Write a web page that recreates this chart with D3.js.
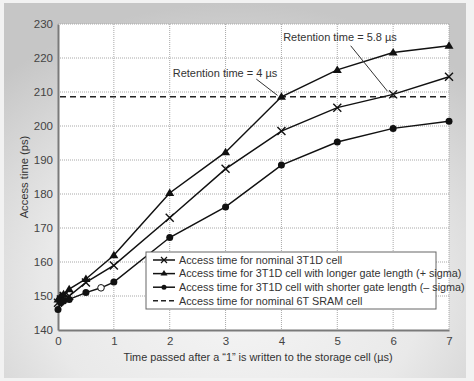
<!DOCTYPE html>
<html>
<head>
<meta charset="utf-8">
<script src="https://cdn.jsdelivr.net/npm/d3@7.9.0/dist/d3.min.js"></script>
<style>
  body { margin: 0; background: #f2f2f2; }
  svg { display: block; font-family: "Liberation Sans", Arial, sans-serif; }
</style>
</head>
<body>
<svg id="chart" width="474" height="381"></svg>
<script>
// data
const tNominal = [0, 0.05, 0.1, 0.2, 0.5, 1, 2, 3, 4, 5, 6, 7];
const vNominal = [148, 149, 150, 150, 154, 159, 173, 187.4, 198.5, 205.4, 209.3, 214.5];
const tLonger = [0, 0.05, 0.1, 0.2, 0.5, 1, 2, 3, 4, 5, 6, 7];
const vLonger = [149, 150, 150.5, 152, 155, 162, 180.3, 192.3, 208.6, 216.5, 221.6, 223.6];
const tShorter = [0, 0.05, 0.1, 0.2, 0.5, 0.77, 1, 2, 3, 4, 5, 6, 7];
const vShorter = [146, 148, 148.5, 149, 151, 152.4, 154.1, 167.2, 176.2, 188.5, 195.3, 199.3, 201.4];
const sramLevel = 208.6;
const xTicks = [0, 1, 2, 3, 4, 5, 6, 7];
const yTicks = [140, 150, 160, 170, 180, 190, 200, 210, 220, 230];
const legendLabels = [
  'Access time for nominal 3T1D cell',
  'Access time for 3T1D cell with longer gate length (+ sigma)',
  'Access time for 3T1D cell with shorter gate length (\u2013 sigma)',
  'Access time for nominal 6T SRAM cell'
];

const svg = d3.select('#chart');

// background panel
const defs = svg.append('defs');
const grad = defs.append('radialGradient').attr('id', 'bg')
  .attr('cx', '50%').attr('cy', '75%').attr('r', '75%');
grad.append('stop').attr('offset', '0%').attr('stop-color', '#f6f6f6');
grad.append('stop').attr('offset', '55%').attr('stop-color', '#e9e9e9');
grad.append('stop').attr('offset', '100%').attr('stop-color', '#c6c6c6');
svg.append('rect').attr('x', 4).attr('y', 3).attr('width', 462).attr('height', 375)
  .attr('fill', 'url(#bg)');

const x = d3.scaleLinear().domain([0, 7]).range([58, 449]);
const y = d3.scaleLinear().domain([140, 230]).range([330, 24]);

// plot area
svg.append('rect').attr('x', x(0)).attr('y', y(230))
  .attr('width', x(7) - x(0)).attr('height', y(140) - y(230)).attr('fill', '#fff');

// grid
svg.append('g').selectAll('line').data(xTicks.slice(1)).join('line')
  .attr('x1', d => x(d)).attr('x2', d => x(d)).attr('y1', y(230)).attr('y2', y(140))
  .attr('stroke', '#a8a8a8').attr('stroke-width', 1).attr('stroke-dasharray', '1,1');
svg.append('g').selectAll('line').data(yTicks.slice(1)).join('line')
  .attr('x1', x(0)).attr('x2', x(7)).attr('y1', d => y(d)).attr('y2', d => y(d))
  .attr('stroke', '#a8a8a8').attr('stroke-width', 1).attr('stroke-dasharray', '1,1');

// axes
const xAxis = svg.append('g').attr('transform', `translate(0,${y(140)})`)
  .call(d3.axisBottom(x).tickValues(xTicks).tickFormat(d3.format('d')).tickSize(0).tickPadding(7));
const yAxis = svg.append('g').attr('transform', `translate(${x(0)},0)`)
  .call(d3.axisLeft(y).tickValues(yTicks).tickFormat(d3.format('d')).tickSize(0).tickPadding(5));
[xAxis, yAxis].forEach(g => {
  g.select('.domain').attr('stroke', '#7a7a7a').attr('stroke-width', 2);
  g.selectAll('text').attr('fill', '#444').attr('font-size', 11.5)
    .attr('font-family', '"Liberation Sans", Arial, sans-serif');
});

svg.append('text').attr('x', 258).attr('y', 361).attr('text-anchor', 'middle')
  .attr('font-size', 10.9).attr('fill', '#333')
  .text('Time passed after a \u201c1\u201d is written to the storage cell (\u00b5s)');
svg.append('text').attr('transform', `translate(28,${(y(230) + y(140)) / 2}) rotate(-90)`)
  .attr('text-anchor', 'middle').attr('font-size', 11.2).attr('fill', '#333')
  .text('Access time (ps)');

// SRAM dashed line
svg.append('line').attr('x1', x(0) + 2).attr('x2', x(7)).attr('y1', y(sramLevel)).attr('y2', y(sramLevel))
  .attr('stroke', '#222').attr('stroke-width', 1.6).attr('stroke-dasharray', '6,4');

const line = d3.line().x(d => x(d[0])).y(d => y(d[1]));
const series = [
  { t: tNominal, v: vNominal, mark: 'cross' },
  { t: tLonger, v: vLonger, mark: 'tri' },
  { t: tShorter, v: vShorter, mark: 'dot' }
];

function drawMark(g, kind, cx, cy, hollow) {
  if (kind === 'cross') {
    g.append('path').attr('d', `M${cx - 4},${cy - 4}L${cx + 4},${cy + 4}M${cx - 4},${cy + 4}L${cx + 4},${cy - 4}`)
      .attr('stroke', '#111').attr('stroke-width', 1.4);
  } else if (kind === 'tri') {
    g.append('path').attr('d', `M${cx},${cy - 4.5}L${cx + 4.5},${cy + 3}L${cx - 4.5},${cy + 3}Z`)
      .attr('fill', '#111');
  } else {
    g.append('circle').attr('cx', cx).attr('cy', cy).attr('r', hollow ? 3.3 : 3.5)
      .attr('fill', hollow ? '#fff' : '#111').attr('stroke', '#111').attr('stroke-width', hollow ? 1 : 0);
  }
}

const plot = svg.append('g');
series.forEach(s => {
  const pts = s.t.map((t, i) => [t, s.v[i]]);
  plot.append('path').attr('d', line(pts)).attr('fill', 'none')
    .attr('stroke', '#111').attr('stroke-width', 1.5);
  pts.forEach(p => drawMark(plot, s.mark, x(p[0]), y(p[1]), s.mark === 'dot' && p[0] === 0.77));
});

// annotations
const notes = [
  { text: 'Retention time = 4 \u00b5s', tx: 225, ty: 77, from: [3.55, 213.8], to: [3.93, 209.0] },
  { text: 'Retention time = 5.8 \u00b5s', tx: 340, ty: 41, from: [5.24, 223.6], to: [5.9, 210.2] }
];
notes.forEach(n => {
  svg.append('text').attr('x', n.tx).attr('y', n.ty).attr('text-anchor', 'middle')
    .attr('font-size', 11).attr('fill', '#333').text(n.text);
  svg.append('line').attr('x1', x(n.from[0])).attr('y1', y(n.from[1]))
    .attr('x2', x(n.to[0])).attr('y2', y(n.to[1])).attr('stroke', '#333').attr('stroke-width', 1);
});

// legend
const lg = svg.append('g').attr('transform', 'translate(146,252)');
lg.append('rect').attr('width', 290).attr('height', 57).attr('fill', '#fff')
  .attr('stroke', '#666').attr('stroke-width', 1);
const kinds = ['cross', 'tri', 'dot', 'dash'];
legendLabels.forEach((lab, i) => {
  const cy = 8 + i * 13.6;
  if (kinds[i] === 'dash') {
    lg.append('line').attr('x1', 7).attr('x2', 29).attr('y1', cy).attr('y2', cy)
      .attr('stroke', '#222').attr('stroke-width', 1.5).attr('stroke-dasharray', '5,3');
  } else {
    lg.append('line').attr('x1', 7).attr('x2', 29).attr('y1', cy).attr('y2', cy)
      .attr('stroke', '#111').attr('stroke-width', 1.5);
    if (kinds[i] === 'cross') {
      lg.append('path').attr('d', `M15,${cy - 3}L21,${cy + 3}M15,${cy + 3}L21,${cy - 3}`)
        .attr('stroke', '#111').attr('stroke-width', 1.2);
    } else if (kinds[i] === 'tri') {
      lg.append('path').attr('d', `M18,${cy - 3.5}L21.5,${cy + 2}L14.5,${cy + 2}Z`).attr('fill', '#111');
    } else {
      lg.append('circle').attr('cx', 18).attr('cy', cy).attr('r', 2.5).attr('fill', '#111');
    }
  }
  lg.append('text').attr('x', 33).attr('y', cy).attr('dy', '0.35em')
    .attr('font-size', 10.8).attr('fill', '#333').text(lab);
});
</script>
</body>
</html>
